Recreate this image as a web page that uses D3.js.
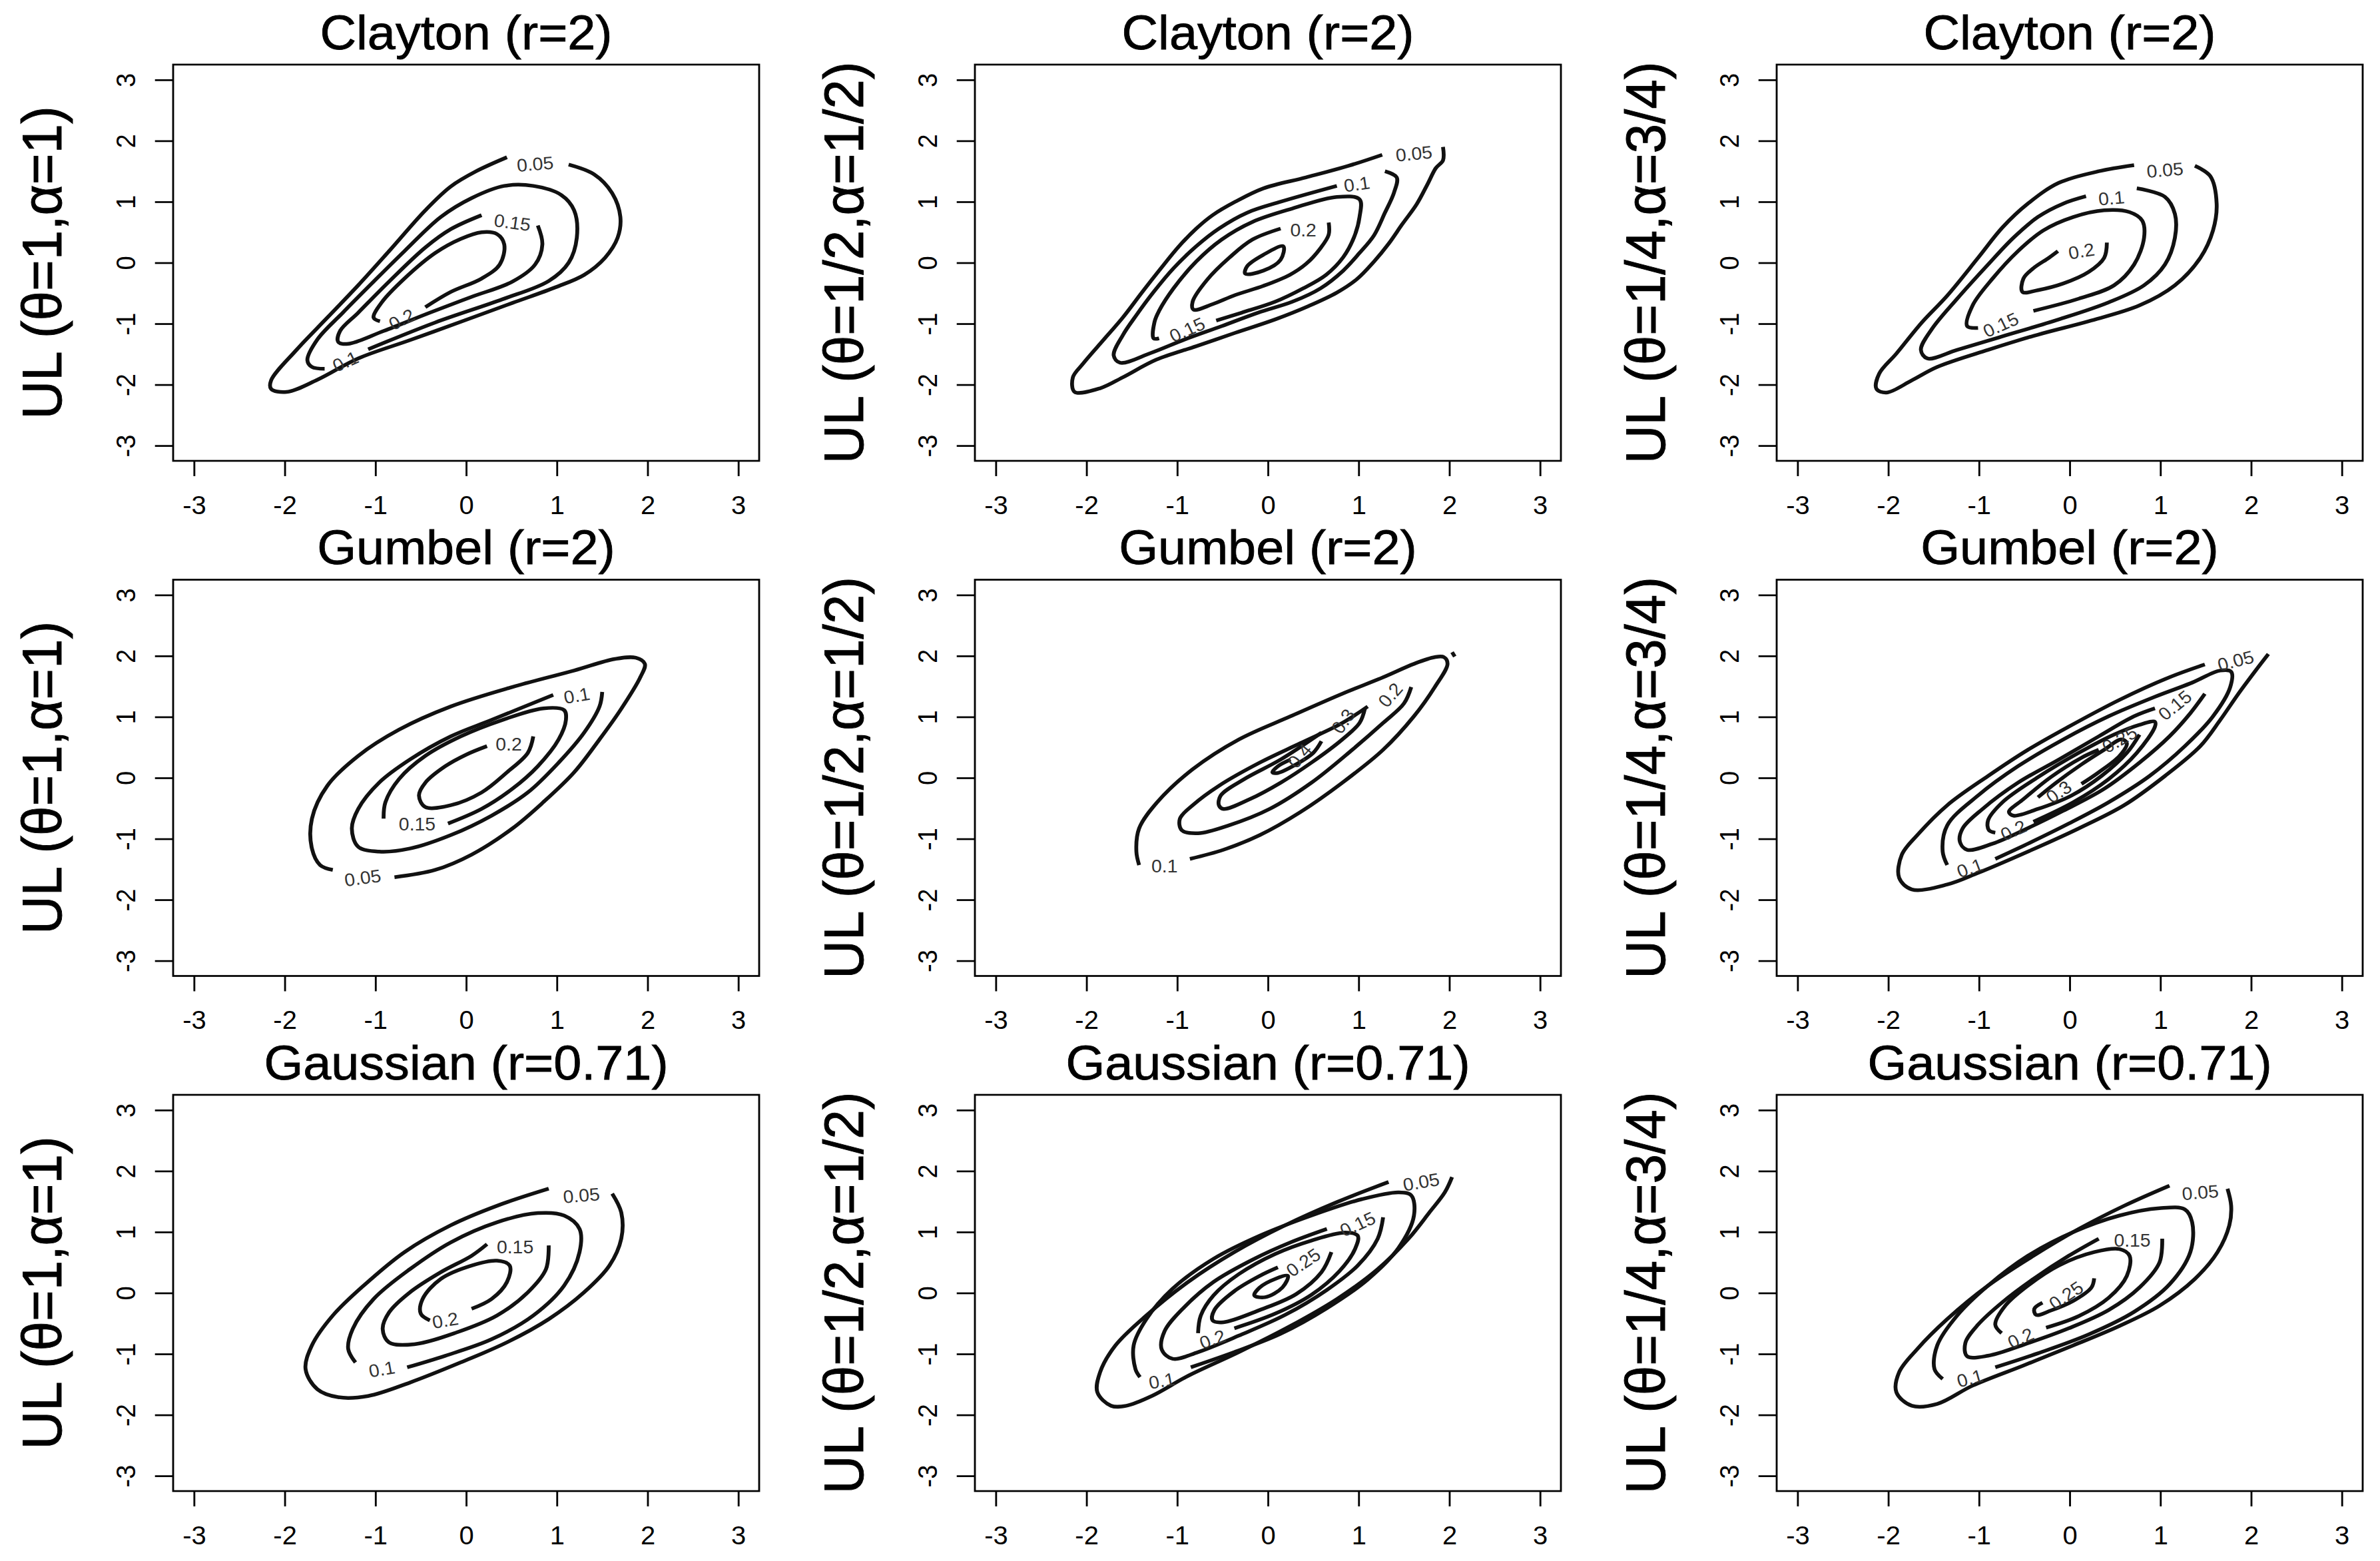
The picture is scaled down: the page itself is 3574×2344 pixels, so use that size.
<!DOCTYPE html>
<html>
<head>
<meta charset="utf-8">
<script src="https://cdn.jsdelivr.net/npm/d3@7"></script>
<style>
  body { margin: 0; background: #fff; }
  text { font-family: "Liberation Sans", Arial, sans-serif; }
</style>
</head>
<body>
<svg id="chart"></svg>
<script>
// axis ticks and panel texts
const xTicks = [-3, -2, -1, 0, 1, 2, 3];
const yTicks = [-3, -2, -1, 0, 1, 2, 3];
const copulaTitles = ["Clayton (r=2)", "Gumbel (r=2)", "Gaussian (r=0.71)"];
const paramLabels = ["UL (\u03b8=1,\u03b1=1)", "UL (\u03b8=1/2,\u03b1=1/2)", "UL (\u03b8=1/4,\u03b1=3/4)"];

// contour lines: [level, closed, points]
const clayton1 = [
  [0.05, false, [[1.13,1.61],[1.41,1.45],[1.61,1.14],[1.70,0.75],[1.67,0.41],[1.53,0.08],[1.30,-0.20],[0.99,-0.40],[0.51,-0.66],[-0.06,-0.97],[-0.62,-1.27],[-1.19,-1.57],[-1.64,-1.92],[-1.98,-2.12],[-2.15,-2.07],[-2.15,-1.93],[-1.87,-1.43],[-1.53,-0.90],[-1.19,-0.37],[-0.85,0.19],[-0.45,0.86],[-0.17,1.25],[0.11,1.50],[0.45,1.73]]],
  [0.1, false, [[-1.08,-1.42],[-0.34,-0.98],[0.40,-0.60],[0.91,-0.30],[1.13,0.0],[1.22,0.41],[1.19,0.86],[1.05,1.11],[0.74,1.26],[0.42,1.26],[0.06,1.06],[-0.28,0.75],[-0.68,0.19],[-1.02,-0.31],[-1.36,-0.82],[-1.64,-1.26],[-1.75,-1.60],[-1.70,-1.71],[-1.56,-1.74]]],
  [0.15, false, [[0.79,0.61],[0.84,0.30],[0.76,-0.03],[0.51,-0.31],[0.06,-0.56],[-0.40,-0.82],[-0.91,-1.12],[-1.30,-1.33],[-1.41,-1.30],[-1.39,-1.12],[-1.19,-0.82],[-0.85,-0.31],[-0.45,0.25],[-0.17,0.55],[0.17,0.78]]],
  [0.2, false, [[-0.45,-0.73],[-0.17,-0.48],[0.17,-0.26],[0.37,-0.03],[0.42,0.30],[0.34,0.47],[0.17,0.50],[-0.06,0.39],[-0.34,0.16],[-0.68,-0.26],[-0.93,-0.65],[-1.02,-0.90],[-0.95,-0.96]]]
];
const clayton1Labels = [["0.05",0.76,1.62,-5],["0.1",-1.33,-1.62,-25],["0.15",0.51,0.66,8],["0.2",-0.71,-0.93,-28]];

const clayton2 = [
  [0.05, false, [[1.93,1.90],[1.93,1.68],[1.85,1.55],[1.76,1.29],[1.64,0.96],[1.48,0.63],[1.33,0.31],[1.17,0.02],[0.98,-0.27],[0.76,-0.49],[0.45,-0.71],[0.08,-0.93],[-0.36,-1.15],[-0.79,-1.37],[-1.23,-1.59],[-1.60,-1.88],[-1.85,-2.06],[-2.13,-2.12],[-2.15,-1.88],[-2.04,-1.66],[-1.85,-1.33],[-1.60,-0.90],[-1.39,-0.49],[-1.20,-0.13],[-0.98,0.27],[-0.79,0.56],[-0.61,0.78],[-0.36,1.00],[-0.05,1.22],[0.42,1.40],[0.89,1.59],[1.26,1.77]]],
  [0.1, false, [[1.29,1.50],[1.42,1.40],[1.39,1.15],[1.29,0.82],[1.17,0.45],[1.01,0.16],[0.83,-0.13],[0.58,-0.42],[0.27,-0.64],[-0.11,-0.82],[-0.51,-1.04],[-0.92,-1.26],[-1.29,-1.48],[-1.63,-1.64],[-1.70,-1.52],[-1.60,-1.19],[-1.45,-0.86],[-1.26,-0.48],[-1.04,-0.09],[-0.79,0.27],[-0.54,0.56],[-0.23,0.82],[0.14,1.00],[0.76,1.26]]],
  [0.15, false, [[-0.57,-0.95],[-0.29,-0.82],[0.08,-0.64],[0.39,-0.42],[0.64,-0.20],[0.83,0.09],[0.95,0.42],[1.01,0.75],[1.01,1.04],[0.76,1.08],[0.27,0.89],[-0.17,0.67],[-0.51,0.38],[-0.79,0.02],[-1.04,-0.42],[-1.20,-0.79],[-1.25,-0.97],[-1.26,-1.24],[-1.20,-1.24]]],
  [0.2, false, [[0.67,0.66],[0.67,0.46],[0.58,0.24],[0.42,-0.02],[0.24,-0.20],[-0.05,-0.38],[-0.36,-0.53],[-0.61,-0.68],[-0.82,-0.77],[-0.83,-0.64],[-0.67,-0.28],[-0.42,0.09],[-0.17,0.38],[0.14,0.56]]],
  [0.25, true, [[0.17,0.27],[0.14,0.05],[-0.05,-0.13],[-0.25,-0.18],[-0.23,-0.06],[-0.05,0.13]]]
];
const clayton2Labels = [["0.05",1.61,1.79,-6],["0.1",0.98,1.29,-8],["0.15",-0.89,-1.10,-25],["0.2",0.39,0.53,0]];

const clayton3 = [
  [0.05, false, [[1.38,1.59],[1.55,1.42],[1.62,0.97],[1.58,0.53],[1.44,0.08],[1.16,-0.37],[0.77,-0.70],[0.21,-0.96],[-0.35,-1.18],[-0.90,-1.43],[-1.46,-1.71],[-1.74,-1.93],[-2.02,-2.13],[-2.13,-2.07],[-2.10,-1.82],[-1.91,-1.49],[-1.63,-0.98],[-1.35,-0.54],[-1.01,0.08],[-0.74,0.58],[-0.46,0.97],[-0.12,1.31],[0.32,1.50],[0.71,1.60]]],
  [0.1, false, [[0.74,1.22],[1.05,1.08],[1.16,0.80],[1.16,0.41],[1.05,-0.03],[0.82,-0.37],[0.43,-0.65],[-0.12,-0.93],[-0.79,-1.23],[-1.24,-1.43],[-1.57,-1.57],[-1.64,-1.43],[-1.52,-1.09],[-1.24,-0.59],[-0.90,-0.03],[-0.62,0.41],[-0.35,0.75],[-0.07,0.97],[0.18,1.09]]],
  [0.15, false, [[-0.40,-0.79],[0.10,-0.59],[0.49,-0.37],[0.71,-0.03],[0.82,0.41],[0.80,0.69],[0.66,0.83],[0.38,0.86],[0.04,0.75],[-0.29,0.53],[-0.57,0.19],[-0.85,-0.26],[-1.07,-0.70],[-1.13,-1.04],[-1.01,-1.07]]],
  [0.2, false, [[0.41,0.33],[0.38,0.08],[0.21,-0.15],[-0.07,-0.34],[-0.35,-0.45],[-0.52,-0.48],[-0.51,-0.26],[-0.40,-0.09],[-0.23,0.08],[-0.13,0.19]]]
];
const clayton3Labels = [["0.05",1.05,1.52,-5],["0.1",0.46,1.06,-5],["0.15",-0.76,-1.02,-25],["0.2",0.13,0.19,-10]];

const gumbel1 = [
  [0.05, false, [[-0.79,-1.63],[-0.34,-1.51],[0.06,-1.26],[0.51,-0.83],[0.85,-0.40],[1.19,0.09],[1.47,0.63],[1.70,1.11],[1.92,1.65],[1.97,1.87],[1.87,1.97],[1.64,1.95],[1.19,1.76],[0.51,1.49],[-0.17,1.17],[-0.74,0.79],[-1.19,0.36],[-1.53,-0.13],[-1.70,-0.67],[-1.70,-1.16],[-1.61,-1.43],[-1.47,-1.51]]],
  [0.1, false, [[1.50,1.41],[1.47,1.17],[1.30,0.74],[1.02,0.25],[0.68,-0.24],[0.28,-0.62],[-0.17,-0.94],[-0.62,-1.16],[-0.96,-1.21],[-1.19,-1.13],[-1.26,-0.83],[-1.19,-0.51],[-0.96,-0.08],[-0.62,0.30],[-0.17,0.68],[0.28,0.95],[0.96,1.36]]],
  [0.15, false, [[-0.20,-0.75],[0.17,-0.51],[0.51,-0.18],[0.79,0.19],[1.02,0.63],[1.10,0.95],[1.08,1.11],[0.85,1.14],[0.40,0.95],[-0.06,0.68],[-0.45,0.36],[-0.74,-0.02],[-0.89,-0.40],[-0.91,-0.67]]],
  [0.2, false, [[0.74,0.68],[0.68,0.41],[0.45,0.09],[0.17,-0.24],[-0.17,-0.45],[-0.45,-0.48],[-0.52,-0.29],[-0.45,-0.08],[-0.23,0.19],[0.00,0.38],[0.23,0.52]]]
];
const gumbel1Labels = [["0.05",-1.14,-1.64,-8],["0.1",1.22,1.35,-10],["0.15",-0.54,-0.76,0],["0.2",0.47,0.55,0]];

const gumbel2 = [
  [0.05, false, [[2.03,2.06],[2.06,1.99]]],
  [0.1, false, [[-0.86,-1.33],[-0.49,-1.18],[-0.09,-0.94],[0.36,-0.56],[0.82,-0.08],[1.27,0.46],[1.61,1.01],[1.84,1.49],[1.98,1.87],[1.94,1.98],[1.84,1.98],[1.61,1.87],[1.27,1.65],[0.82,1.38],[0.25,1.01],[-0.32,0.63],[-0.83,0.14],[-1.22,-0.40],[-1.42,-0.83],[-1.45,-1.21],[-1.42,-1.43]]],
  [0.2, false, [[1.58,1.49],[1.50,1.22],[1.27,0.90],[0.93,0.46],[0.48,-0.08],[0.02,-0.51],[-0.43,-0.78],[-0.77,-0.91],[-0.95,-0.86],[-0.97,-0.67],[-0.83,-0.45],[-0.54,-0.13],[-0.09,0.25],[0.36,0.57],[0.82,0.90],[1.10,1.17]]],
  [0.3, false, [[1.07,1.14],[1.01,0.90],[0.82,0.63],[0.48,0.25],[0.14,-0.08],[-0.20,-0.35],[-0.49,-0.51],[-0.54,-0.45],[-0.52,-0.29],[-0.26,-0.02],[0.14,0.30],[0.59,0.74]]],
  [0.4, false, [[0.59,0.60],[0.50,0.41],[0.31,0.22],[0.11,0.08],[0.05,0.09],[0.11,0.19],[0.25,0.30]]]
];
const gumbel2Labels = [["0.1",-1.14,-1.45,0],["0.2",1.35,1.36,-50],["0.3",0.83,0.93,-55],["0.4",0.35,0.36,-50]];

const gumbel3 = [
  [0.05, false, [[2.19,2.03],[2.05,1.76],[1.86,1.38],[1.66,0.95],[1.44,0.52],[1.05,0.03],[0.60,-0.45],[0.10,-0.83],[-0.46,-1.21],[-1.01,-1.56],[-1.35,-1.75],[-1.74,-1.83],[-1.88,-1.64],[-1.85,-1.26],[-1.68,-0.94],[-1.35,-0.45],[-0.90,0.03],[-0.46,0.46],[-0.01,0.84],[0.55,1.28],[1.10,1.65],[1.49,1.86]]],
  [0.1, false, [[-0.82,-1.33],[-0.46,-1.08],[-0.01,-0.75],[0.43,-0.40],[0.88,0.03],[1.27,0.52],[1.58,1.01],[1.77,1.49],[1.78,1.74],[1.66,1.76],[1.33,1.55],[0.94,1.33],[0.43,1.01],[-0.07,0.63],[-0.57,0.19],[-1.01,-0.29],[-1.35,-0.78],[-1.40,-1.21],[-1.35,-1.43]]],
  [0.15, false, [[1.49,1.38],[1.33,1.06],[1.10,0.68],[0.77,0.25],[0.38,-0.18],[-0.07,-0.54],[-0.51,-0.86],[-0.85,-1.08],[-1.13,-1.18],[-1.21,-1.05],[-1.18,-0.83],[-0.96,-0.51],[-0.57,-0.08],[-0.12,0.30],[0.32,0.68],[0.71,1.01],[0.94,1.14]]],
  [0.2, false, [[-0.40,-0.72],[0.04,-0.40],[0.43,-0.02],[0.74,0.41],[0.94,0.84],[0.94,0.92],[0.77,0.87],[0.49,0.71],[0.10,0.41],[-0.35,0.01],[-0.74,-0.40],[-0.90,-0.70],[-0.89,-0.86],[-0.82,-0.90]]],
  [0.25, false, [[0.77,0.71],[0.63,0.41],[0.35,0.03],[0.02,-0.29],[-0.35,-0.51],[-0.62,-0.62],[-0.67,-0.56],[-0.51,-0.35],[-0.21,0.01],[0.13,0.33],[0.32,0.46]]],
  [0.3, false, [[0.13,-0.10],[0.32,0.09],[0.55,0.36],[0.63,0.57],[0.57,0.63],[0.38,0.46],[0.13,0.22],[-0.15,-0.08],[-0.35,-0.32]]]
];
const gumbel3Labels = [["0.05",1.83,1.92,-15],["0.1",-1.10,-1.48,-20],["0.15",1.16,1.19,-40],["0.2",-0.62,-0.86,-25],["0.25",0.55,0.63,-30],["0.3",-0.12,-0.23,-35]];

const gauss1 = [
  [0.05, false, [[1.61,1.63],[1.71,1.32],[1.71,0.89],[1.58,0.45],[1.30,0.01],[0.91,-0.43],[0.45,-0.81],[-0.06,-1.14],[-0.62,-1.47],[-1.08,-1.69],[-1.41,-1.71],[-1.64,-1.58],[-1.77,-1.25],[-1.70,-0.86],[-1.47,-0.37],[-1.13,0.12],[-0.68,0.67],[-0.17,1.11],[0.34,1.43],[0.91,1.71]]],
  [0.1, false, [[-0.65,-1.22],[-0.23,-1.03],[0.28,-0.76],[0.74,-0.37],[1.08,0.12],[1.25,0.67],[1.25,1.05],[1.08,1.27],[0.79,1.31],[0.34,1.16],[-0.17,0.83],[-0.62,0.39],[-1.02,-0.10],[-1.25,-0.59],[-1.30,-0.92],[-1.22,-1.14]]],
  [0.15, false, [[0.91,0.78],[0.88,0.39],[0.68,0.01],[0.34,-0.37],[-0.11,-0.65],[-0.57,-0.84],[-0.85,-0.81],[-0.92,-0.59],[-0.85,-0.32],[-0.62,0.01],[-0.28,0.34],[0.06,0.61],[0.23,0.80]]],
  [0.2, false, [[0.06,-0.26],[0.28,-0.10],[0.45,0.18],[0.48,0.45],[0.34,0.53],[0.06,0.45],[-0.28,0.23],[-0.48,-0.10],[-0.50,-0.34],[-0.40,-0.45]]]
];
const gauss1Labels = [["0.05",1.27,1.60,-5],["0.1",-0.93,-1.25,-10],["0.15",0.54,0.75,0],["0.2",-0.23,-0.45,-10]];

const gauss2 = [
  [0.05, false, [[2.03,1.90],[1.95,1.65],[1.78,1.32],[1.55,0.89],[1.21,0.39],[0.76,-0.10],[0.25,-0.54],[-0.32,-0.97],[-0.88,-1.36],[-1.28,-1.69],[-1.56,-1.85],[-1.73,-1.85],[-1.88,-1.63],[-1.85,-1.30],[-1.68,-0.86],[-1.34,-0.37],[-0.88,0.18],[-0.37,0.67],[0.19,1.11],[0.76,1.49],[1.33,1.82]]],
  [0.1, false, [[-0.85,-1.22],[-0.37,-0.97],[0.14,-0.67],[0.65,-0.25],[1.10,0.22],[1.44,0.74],[1.61,1.27],[1.58,1.60],[1.44,1.65],[1.04,1.54],[0.48,1.27],[-0.09,0.94],[-0.60,0.56],[-1.05,0.07],[-1.34,-0.43],[-1.48,-0.86],[-1.46,-1.25],[-1.41,-1.38]]],
  [0.15, false, [[1.27,1.24],[1.21,0.89],[0.99,0.45],[0.65,0.05],[0.19,-0.36],[-0.32,-0.70],[-0.77,-0.97],[-1.05,-1.08],[-1.17,-0.93],[-1.14,-0.63],[-0.94,-0.26],[-0.60,0.18],[-0.15,0.56],[0.25,0.83],[0.65,1.05]]],
  [0.2, false, [[-0.37,-0.58],[0.08,-0.34],[0.48,-0.03],[0.79,0.36],[0.96,0.72],[0.99,0.94],[0.84,0.99],[0.48,0.86],[0.08,0.64],[-0.32,0.31],[-0.60,-0.04],[-0.74,-0.37],[-0.77,-0.66]]],
  [0.25, false, [[0.70,0.67],[0.59,0.34],[0.31,-0.02],[-0.09,-0.28],[-0.49,-0.48],[-0.61,-0.45],[-0.59,-0.28],[-0.37,0.03],[-0.09,0.28],[0.11,0.42]]],
  [0.3, true, [[0.22,0.28],[0.16,0.09],[-0.03,-0.07],[-0.15,-0.04],[-0.09,0.09],[0.08,0.23]]]
];
const gauss2Labels = [["0.05",1.69,1.82,-10],["0.1",-1.17,-1.44,-10],["0.15",0.99,1.13,-25],["0.2",-0.61,-0.76,-20],["0.25",0.39,0.50,-35]];

const gauss3 = [
  [0.05, false, [[1.74,1.71],[1.78,1.43],[1.76,1.11],[1.63,0.67],[1.38,0.23],[0.99,-0.21],[0.55,-0.54],[0.04,-0.86],[-0.51,-1.19],[-1.07,-1.52],[-1.46,-1.82],[-1.74,-1.85],[-1.91,-1.63],[-1.88,-1.30],[-1.68,-0.92],[-1.35,-0.43],[-0.90,0.12],[-0.40,0.61],[0.10,1.05],[0.60,1.43],[1.10,1.76]]],
  [0.1, false, [[-0.82,-1.22],[-0.35,-0.99],[0.21,-0.68],[0.71,-0.31],[1.10,0.14],[1.33,0.67],[1.35,1.16],[1.27,1.37],[0.99,1.39],[0.55,1.27],[0.04,1.00],[-0.46,0.61],[-0.90,0.12],[-1.24,-0.37],[-1.46,-0.86],[-1.49,-1.25],[-1.40,-1.41]]],
  [0.15, false, [[1.02,0.89],[0.99,0.50],[0.77,0.09],[0.43,-0.28],[-0.01,-0.58],[-0.51,-0.85],[-0.90,-1.03],[-1.13,-1.04],[-1.15,-0.82],[-1.01,-0.52],[-0.74,-0.15],[-0.40,0.23],[-0.01,0.61],[0.32,0.89]]],
  [0.2, false, [[-0.26,-0.57],[0.10,-0.38],[0.43,-0.08],[0.63,0.28],[0.66,0.61],[0.55,0.72],[0.27,0.67],[-0.12,0.45],[-0.46,0.12],[-0.71,-0.21],[-0.82,-0.52],[-0.75,-0.66]]],
  [0.25, false, [[0.27,0.24],[0.24,0.09],[0.04,-0.13],[-0.21,-0.29],[-0.37,-0.36],[-0.39,-0.26],[-0.30,-0.16]]]
];
const gauss3Labels = [["0.05",1.44,1.65,-5],["0.1",-1.10,-1.40,-15],["0.15",0.69,0.86,0],["0.2",-0.54,-0.74,-25],["0.25",-0.04,-0.04,-35]];

const panelLines = [clayton1, clayton2, clayton3, gumbel1, gumbel2, gumbel3, gauss1, gauss2, gauss3];
const panelLabels = [clayton1Labels, clayton2Labels, clayton3Labels, gumbel1Labels, gumbel2Labels, gumbel3Labels, gauss1Labels, gauss2Labels, gauss3Labels];

// page layout (the source picture is a little wider than tall, so stretch x)
const W = 3574, H = 2344;
const SX = 1.05;
const boxW = 880 / SX, boxH = 595;

const svg = d3.select("#chart").attr("width", W).attr("height", H);
svg.append("rect").attr("width", W).attr("height", H).attr("fill", "#fff");
const root = svg.append("g").attr("transform", `scale(${SX},1)`);

const lineOpen = d3.line().curve(d3.curveCatmullRom.alpha(0.5));
const lineClosed = d3.line().curve(d3.curveCatmullRomClosed.alpha(0.5));
const tickFmt = d => String(d);

for (let row = 0; row < 3; row++) {
  for (let col = 0; col < 3; col++) {
    const k = row * 3 + col;
    const left = (260 + 1204 * col) / SX;
    const top = 97 + 773.5 * row;

    const x = d3.scaleLinear().domain([-3.23, 3.23]).range([left, left + boxW]);
    const y = d3.scaleLinear().domain([-3.25, 3.25]).range([top + boxH, top]);

    const g = root.append("g");

    // title
    g.append("text")
      .attr("x", left + boxW / 2)
      .attr("y", top - 23)
      .attr("text-anchor", "middle")
      .attr("font-size", 72)
      .attr("stroke", "#000")
      .attr("stroke-width", 0.8)
      .text(copulaTitles[row]);

    // y label
    g.append("text")
      .attr("transform", `translate(${left - 198 / SX},${top + boxH / 2}) rotate(-90)`)
      .attr("text-anchor", "middle")
      .attr("dy", "0.36em")
      .attr("font-size", 80)
      .attr("stroke", "#000")
      .attr("stroke-width", 0.9)
      .text(paramLabels[col]);

    // x axis
    const xa = g.append("g")
      .attr("transform", `translate(0,${top + boxH})`)
      .call(d3.axisBottom(x).tickValues(xTicks).tickSize(23).tickPadding(30).tickFormat(tickFmt));
    xa.select(".domain").remove();
    xa.selectAll(".tick line").attr("stroke", "#000").attr("stroke-width", 2.7);
    xa.selectAll(".tick text").attr("font-size", 38).attr("font-family", "Liberation Sans, Arial, sans-serif").attr("fill", "#000");

    // y axis, labels parallel to the axis
    const ya = g.append("g")
      .attr("transform", `translate(${left},0)`)
      .call(d3.axisLeft(y).tickValues(yTicks).tickSize(26).tickFormat(tickFmt));
    ya.select(".domain").remove();
    ya.selectAll(".tick line").attr("stroke", "#000").attr("stroke-width", 2.7);
    ya.selectAll(".tick text")
      .attr("font-size", 38)
      .attr("font-family", "Liberation Sans, Arial, sans-serif")
      .attr("fill", "#000")
      .attr("text-anchor", "middle")
      .attr("transform", "rotate(-90)")
      .attr("x", 0)
      .attr("y", -68)
      .attr("dy", "0.36em");

    // contour lines
    g.append("g")
      .selectAll("path")
      .data(panelLines[k])
      .join("path")
      .attr("d", d => {
        const pts = d[2].map(p => [x(p[0]), y(p[1])]);
        return d[1] ? lineClosed(pts) : lineOpen(pts);
      })
      .attr("fill", "none")
      .attr("stroke", "#111")
      .attr("stroke-width", 5.5)
      .attr("stroke-linejoin", "round")
      .attr("stroke-linecap", "butt");

    // contour labels
    g.append("g")
      .selectAll("text")
      .data(panelLabels[k])
      .join("text")
      .attr("transform", d => `translate(${x(d[1])},${y(d[2])}) rotate(${d[3]})`)
      .attr("text-anchor", "middle")
      .attr("dy", "0.35em")
      .attr("font-size", 27)
      .attr("fill", "#333")
      .text(d => d[0]);

    // plot box
    g.append("rect")
      .attr("x", left).attr("y", top)
      .attr("width", boxW).attr("height", boxH)
      .attr("fill", "none")
      .attr("stroke", "#000")
      .attr("stroke-width", 2.7);
  }
}
</script>
</body>
</html>
